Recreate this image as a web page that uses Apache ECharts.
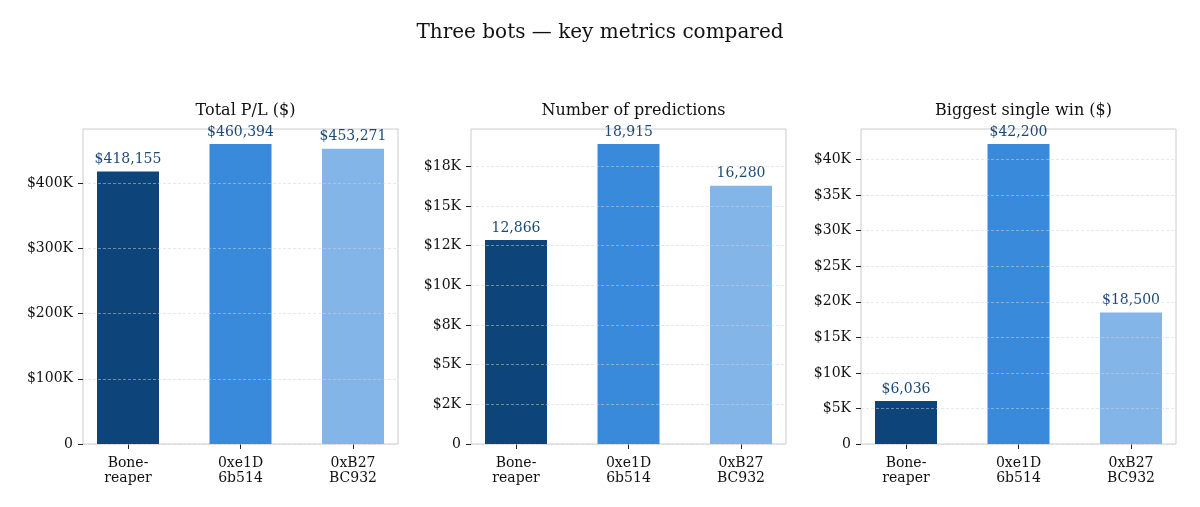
<!DOCTYPE html>
<html>
<head>
<meta charset="utf-8">
<script src="https://cdn.jsdelivr.net/npm/echarts@6/dist/echarts.min.js"></script>
<style>
  html, body { margin: 0; padding: 0; background: #fff; }
  #chart { width: 1200px; height: 507px; }
</style>
</head>
<body>
<div id="chart"></div>
<script>
// bots on the x axis
var bots = ['Bone-\nreaper', '0xe1D\n6b514', '0xB27\nBC932']
var barColors = ['#0d4479', '#3a8adb', '#84b5e8']

// values per panel
var totalPL = [418155, 460394, 453271]
var predictions = [12866, 18915, 16280]
var biggestWin = [6036, 42200, 18500]

// y tick values per panel
var totalPLTicks = [0, 100000, 200000, 300000, 400000]
var predictionTicks = [0, 2500, 5000, 7500, 10000, 12500, 15000, 17500]
var biggestWinTicks = [0, 5000, 10000, 15000, 20000, 25000, 30000, 35000, 40000]

var panelTitles = ['Total P/L ($)', 'Number of predictions', 'Biggest single win ($)']

var font = 'DejaVu Serif'

// round half to even, like the source labels ($2K, $8K, $12K, $18K)
function roundEven(x) {
  var r = Math.round(x)
  if (Math.abs(x % 1) === 0.5 && r % 2 !== 0) r -= 1
  return r
}
function kLabel(v) {
  if (v === 0) return '0'
  return '$' + roundEven(v / 1000) + 'K'
}
function commas(v) {
  return v.toString().replace(/\B(?=(\d{3})+(?!\d))/g, ',')
}

var panels = [
  { values: totalPL, ticks: totalPLTicks, dollar: true, left: 83 },
  { values: predictions, ticks: predictionTicks, dollar: false, left: 471 },
  { values: biggestWin, ticks: biggestWinTicks, dollar: true, left: 861 }
]
var plotW = 315
var plotTop = 129
var plotBottom = 63

var option = {
  backgroundColor: '#fff',
  animation: false,
  title: [{
    text: 'Three bots — key metrics compared',
    left: 'center',
    top: 18,
    textStyle: { fontFamily: font, fontSize: 20, fontWeight: 'normal', color: '#111' }
  }],
  grid: [],
  xAxis: [],
  yAxis: [],
  series: []
}

panels.forEach(function (p, i) {
  var maxVal = Math.max.apply(null, p.values) * 1.05
  option.title.push({
    text: panelTitles[i],
    left: p.left + plotW / 2,
    textAlign: 'center',
    top: 98,
    textStyle: { fontFamily: font, fontSize: 16, fontWeight: 'normal', color: '#111' }
  })
  option.grid.push({
    left: p.left,
    width: plotW,
    top: plotTop,
    bottom: plotBottom,
    show: true,
    borderColor: '#cccccc',
    borderWidth: 1,
    backgroundColor: 'transparent'
  })
  option.xAxis.push({
    type: 'value',
    gridIndex: i,
    min: -0.4,
    max: 2.4,
    axisLine: { show: false, onZero: false },
    splitLine: { show: false },
    axisTick: { show: true, customValues: [0, 1, 2], length: 5, lineStyle: { color: '#222' } },
    axisLabel: {
      customValues: [0, 1, 2],
      formatter: function (v) { return bots[Math.round(v)] },
      fontFamily: font,
      fontSize: 14,
      lineHeight: 15,
      color: '#111',
      margin: 12
    }
  })
  option.yAxis.push({
    type: 'value',
    gridIndex: i,
    min: 0,
    max: maxVal,
    z: 3,
    axisLine: { show: false, onZero: false },
    axisTick: { show: true, customValues: p.ticks, length: 5, lineStyle: { color: '#222' } },
    axisLabel: {
      customValues: p.ticks,
      formatter: kLabel,
      fontFamily: font,
      fontSize: 14,
      color: '#111',
      margin: 10
    },
    splitLine: {
      show: true,
      lineStyle: { color: 'rgba(210,210,210,0.65)', type: [3, 2], width: 0.8 }
    }
  })
  option.series.push({
    type: 'bar',
    xAxisIndex: i,
    yAxisIndex: i,
    barWidth: 62,
    data: p.values.map(function (v, j) {
      return { value: [j, v], itemStyle: { color: barColors[j] } }
    }),
    label: {
      show: true,
      position: 'top',
      distance: 5,
      fontFamily: font,
      fontSize: 14,
      color: '#1c4a78',
      formatter: function (d) { return (p.dollar ? '$' : '') + commas(d.value[1]) }
    }
  })
})

var chart = echarts.init(document.getElementById('chart'))
chart.setOption(option)
</script>
</body>
</html>
